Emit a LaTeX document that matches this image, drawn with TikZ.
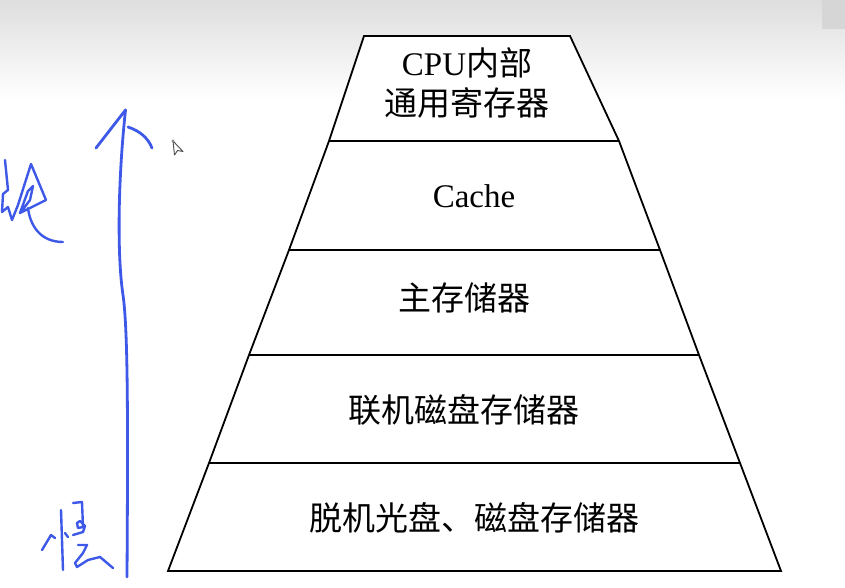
\documentclass[tikz,border=0pt]{standalone}
\usepackage{fontspec}
\setmainfont{Liberation Serif}
\newfontfamily\cjk{Noto Sans CJK SC}
\begin{document}
\begin{tikzpicture}[x=1pt,y=-1pt,
  frame/.style={line width=1.8pt,black,line join=miter},
  sep/.style={line width=1.8pt,black},
  lvl/.style={font=\fontsize{33}{40}\selectfont,inner sep=0pt,align=center},
  ink/.style={draw={rgb,255:red,62;green,88;blue,232},line width=2.8pt,line cap=round,line join=round},
]
\useasboundingbox (0,0) rectangle (845,588);
\fill[white] (0,0) rectangle (845,588);
\shade[top color=black!13,bottom color=white] (0,0) rectangle (845,100);
\fill[black!16] (822,0) rectangle (845,29);

% pyramid outline
\coordinate (L0) at (364,36);  \coordinate (R0) at (570,36);
\coordinate (L1) at (329,141); \coordinate (R1) at (619,141);
\coordinate (L2) at (289,250); \coordinate (R2) at (660,250);
\coordinate (L3) at (249,355); \coordinate (R3) at (699,355);
\coordinate (L4) at (209,463); \coordinate (R4) at (740,463);
\coordinate (L5) at (168,571); \coordinate (R5) at (781,571);
\fill[white] (L0)--(L1)--(L2)--(L3)--(L4)--(L5)--(R5)--(R4)--(R3)--(R2)--(R1)--(R0)--cycle;
\draw[frame] (L0)--(L1)--(L2)--(L3)--(L4)--(L5)--(R5)--(R4)--(R3)--(R2)--(R1)--(R0)--cycle;
\draw[sep] (L1)--(R1);
\draw[sep] (L2)--(R2);
\draw[sep] (L3)--(R3);
\draw[sep,line width=1.4pt] (L4)--(R4);

% level texts
\node[lvl] (t1) at (467,83) {CPU{\cjk 内部}\\{\cjk 通用寄存器}};
\node[lvl] (t2) at (474,196) {Cache};
\node[lvl] (t3) at (464,298) {\cjk 主存储器};
\node[lvl] (t4) at (464,410) {\cjk 联机磁盘存储器};
\node[lvl] (t5) at (474,518) {\cjk 脱机光盘、磁盘存储器};

% hand-drawn arrow
\coordinate (atop) at (125.5,110);
\coordinate (abot) at (127,577);
\draw[ink] (abot) .. controls (128,420) and (128,330) .. (123,295)
  .. controls (117,255) and (118,180) .. (atop);
\draw[ink] (96,148) -- (atop);
\draw[ink] (128,127) .. controls (140,131) and (148,138) .. (152,148);

% handwritten 快
\draw[ink,line width=2.4pt] (5,160) -- (8,190) -- (3,194) -- (2,212) -- (8,207) -- (12,220) -- (18,205) -- (31,164) -- (46,200) -- (20,213) -- (28,191) -- (33,186) -- (30,200) -- (21,212);
\draw[ink,line width=2.4pt] (28,208) .. controls (30,225) and (40,242) .. (63,242);

% handwritten 慢
\draw[ink,line width=2.4pt] (61,510) -- (63,570);
\draw[ink,line width=2.4pt] (42,550) -- (51,535) -- (55,538);
\draw[ink,line width=2.4pt] (65,533) -- (68,537);
\draw[ink,line width=2.4pt] (73,503) -- (82,502) -- (83,527) -- (78,528) -- (77,523) -- (80,521) -- (85,526) -- (83,532) -- (73,535);
\draw[ink,line width=2.4pt] (78,545) -- (87,545) -- (83,553) -- (75,563) -- (77,567) -- (88,560) -- (100,557) -- (113,568);

% mouse pointer
\draw[black!70,line width=0.9pt,fill=white,line join=round] (173,141) -- (174.5,155) -- (177.5,150.5) -- (183,151.5) -- cycle;
\fill[black!45] (173,141) circle (1.6);
\end{tikzpicture}
\end{document}
